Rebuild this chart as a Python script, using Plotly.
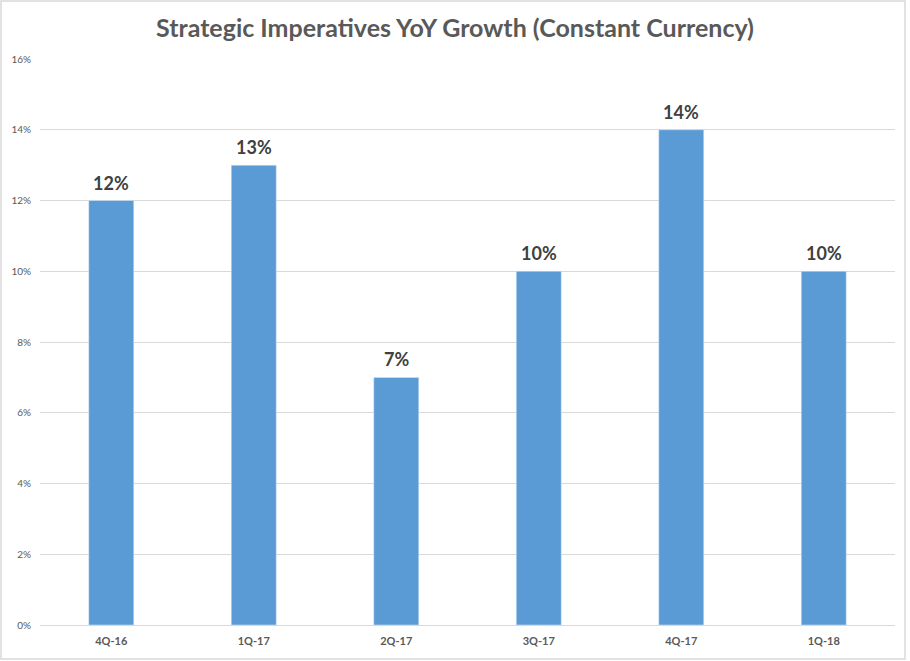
import plotly.graph_objects as go

# Data
quarters = ["4Q-16", "1Q-17", "2Q-17", "3Q-17", "4Q-17", "1Q-18"]
growth = [12, 13, 7, 10, 14, 10]
labels = [f"{v}%" for v in growth]
y_ticks = [0, 2, 4, 6, 8, 10, 12, 14, 16]
y_tick_text = [f"{v}%" for v in y_ticks]

fig = go.Figure()

fig.add_trace(
    go.Bar(
        x=quarters,
        y=growth,
        marker_color="#5B9BD5",
        hoverinfo="x+y",
    )
)

# value labels above the bars
for q, v, lab in zip(quarters, growth, labels):
    fig.add_annotation(
        x=q,
        y=v,
        text=f"<b>{lab}</b>",
        showarrow=False,
        yanchor="bottom",
        yshift=5,
        font=dict(size=18, color="#404040", family="Lato"),
    )

fig.update_layout(
    width=910,
    height=661,
    margin=dict(l=40, r=15, t=59, b=36),
    paper_bgcolor="white",
    plot_bgcolor="white",
    bargap=0.684,
    showlegend=False,
    font=dict(family="Lato", color="#595959"),
    title=dict(
        text="<b>Strategic Imperatives YoY Growth (Constant Currency)</b>",
        x=0.5,
        xanchor="center",
        y=0.958,
        yanchor="middle",
        font=dict(size=25, color="#595959", family="Lato"),
    ),
    # light grey frame around the whole chart
    shapes=[
        dict(
            type="rect",
            xref="paper",
            yref="paper",
            x0=-39 / 855,
            x1=865 / 855,
            y0=-34 / 566,
            y1=624 / 566,
            line=dict(color="#D9D9D9", width=1.5),
            layer="below",
        )
    ],
)

fig.update_xaxes(
    showgrid=False,
    showline=False,
    tickfont=dict(size=11, color="#595959", family="Lato", weight="bold"),
    ticklabelstandoff=8,
)

fig.update_yaxes(
    range=[0, 16],
    tickvals=y_ticks,
    ticktext=y_tick_text,
    showgrid=True,
    gridcolor="#D9D9D9",
    gridwidth=1,
    zeroline=True,
    zerolinecolor="#D9D9D9",
    zerolinewidth=1,
    showline=False,
    tickfont=dict(size=10, color="#595959", family="Lato"),
    ticklabelstandoff=8,
)

# page margin off so the chart sits at the window corner
fig.write_html(
    "out.html",
    config={"displayModeBar": False},
    post_script="document.body.style.margin='0';",
)
